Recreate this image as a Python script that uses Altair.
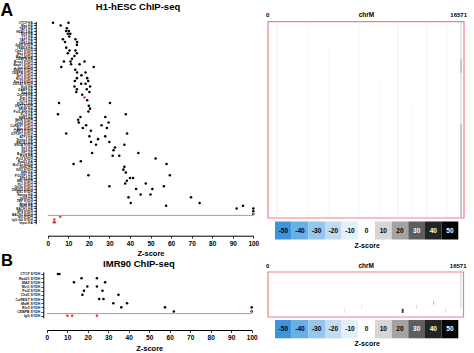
import json
import altair as alt
import pandas as pd

FONT = "Liberation Sans"
W, H = 474, 353

# ---------------- data ----------------
labels_A = [
    "CTCF HA", "Max HA", "TAF1 HA", "HDAC2 HA", "Sin3 HA", "YY1 HA", "TAF7 HA", "USF1 HA",
    "JunD SYDH", "TEAD4 HA", "Chd1 SYDH", "Max SYDH", "Mxi1 SYDH", "CEBPB HA", "Brca1 SYDH",
    "Bach1 SYDH", "c-Jun SYDH", "Rad21 SYDH", "CEBPB SYDH", "Nrf1 SYDH", "Rfx5 SYDH",
    "Suz12 SYDH", "Znf143 SYDH", "Six5 HA", "GABP HA", "Sp4 HA", "Znf274 HA", "Egr1 HA",
    "Tcf12 HA", "FOSL1 HA", "USF2 SYDH", "NRSF HA", "Pol2-4H8 HA", "Pol2 HA", "NRF1 HA",
    "MafK SYDH", "Chd2 SYDH", "CoREST SYDH", "c-Myc SYDH", "CtBP2 SYDH", "GTF2F1 SYDH",
    "ATF3 HA", "Srebp1 HA", "BRCA1 HA", "Sin3A SYDH", "Sp1 HA", "Sp2 HA", "Bcl11a HA",
    "Rxra HA", "Pol2 SYDH", "Rad21 HA", "Bcl11a SYDH", "JunD HA", "SIX5 SYDH", "SRF HA",
    "POU5F1 HA", "ATF2 HA", "Maz SYDH", "Ini1 SYDH", "Gtf2b SYDH", "ZNF263 SYDH",
    "Elk1 SYDH", "Nanog HA", "p300 HA", "TBP SYDH", "Hey1 HA", "MafK HA", "BACH1 HA",
    "SP4 SYDH", "BACH1 SYDH", "IgG SYDH", "IgG rab SYDH", "Input HA",
]
z_A = [
    [2.6, 10.1], [6.3], [9.3], [9.0, 10.3], [9.8, 11.0], [10.5], [7.4, 13.5], [8.4, 14.3],
    [14.2], [9.0], [10.6, 13.5], [9.8, 14.2], [13.0], [11.8], [7.9, 11.1, 17.9],
    [11.4, 15.5], [6.6, 22.4], [13.4], [14.3, 18.4], [16.4], [14.2, 19.2], [13.2, 19.7],
    [16.3, 18.4], [13.0, 20.6], [14.2, 19.0], [13.9, 20.3], [16.8], [17.9], [19.2],
    [5.5, 30.3], [20.0], [20.6], [19.8], [5.0, 38.0], [15.9, 28.0], [14.8], [15.1, 29.6],
    [18.7, 26.2], [17.1, 28.8], [21.0], [9.0, 38.6], [20.3, 28.0], [24.5], [21.1, 30.0],
    [23.5, 37.3], [32.7], [32.0], [21.6, 44.1], [31.6, 34.8], [52.5], [16.1], [12.6, 57.8],
    [37.3], [36.8], [38.0], [19.8, 59.4], [40.0, 41.5], [38.5], [37.7, 47.7], [30.0, 56.5],
    [43.0, 50.9], [], [45.2, 50.0], [39.3, 69.7], [], [40.4, 73.9], [57.6, 95.0],
    [91.9, 100.0], [100.0], [100.0], [6.1], [3.2], [3.0, 3.4],
]
red_rows_A = [27, 70, 71, 72]
ctrl_boundary_A = 69.5

labels_B = [
    "CTCF SYDH", "Rad21 SYDH", "MAZ SYDH", "Mxi1 SYDH", "Pol2 SYDH", "Chd1 SYDH",
    "CoREST SYDH", "MafK SYDH", "Rfx5 SYDH", "CEBPB SYDH", "IgG SYDH",
]
z_B = [
    [5.5, 6.2], [17.0, 24.5], [13.3, 28.5], [19.8, 24.5], [18.2, 27.2], [17.4, 35.0],
    [25.6, 27.7], [32.5, 39.2], [36.4, 57.7, 100.0], [62.0, 100.0], [10.1, 12.4, 24.5],
]
red_rows_B = [10]
ctrl_boundary_B = 9.5

x_ticks = [0, 10, 20, 30, 40, 50, 60, 70, 80, 90, 100]
chrM_len = 16571

cbar_values = [-50, -40, -30, -20, -10, 0, 10, 20, 30, 40, 50]
cbar_colors = ["#3f93db", "#6aaee6", "#95c6ee", "#bfdcf3", "#e3f0f9", "#ffffff",
               "#d6d6d6", "#a3a3a3", "#5e5e5e", "#242424", "#050505"]

# heatmap streaks along chrM (start bp, end bp, first row, last row, z-score)
streak_A_start = [700, 3330, 5100, 7720, 9500, 10950, 12200, 13400, 15100, 16250, 16250, 16250]
streak_A_end = [800, 3420, 5180, 7800, 9570, 11050, 12280, 13480, 15180, 16400, 16400, 16400]
streak_A_row0 = [0, 0, 10, 0, 20, 0, 30, 0, 0, 0, 14, 38]
streak_A_row1 = [72, 72, 72, 72, 72, 72, 72, 72, 72, 72, 18, 72]
streak_A_z = [3, 2, 2, 2, 2, 3, 2, 3, 3, 6, 14, 14]

streak_B_start = [6470, 7900, 11330, 12550, 13990, 15000, 16280]
streak_B_end = [6550, 7990, 11500, 12640, 14080, 15090, 16400]
streak_B_row0 = [9, 8, 9, 8, 7, 9, 0]
streak_B_row1 = [9, 8, 9, 8, 7, 9, 8]
streak_B_z = [8, 6, 35, 8, 14, 8, 8]

RED_LINE = "#f07c82"
RED_DOT = "#e8303a"
BOX = "#ef8088"

heat_scale = alt.Scale(domain=cbar_values, range=cbar_colors, interpolate="rgb")


def scatter(labels, z_rows, red_rows, boundary, x_range, y_range, yaxis_x, xaxis_y, lab_size):
    n = len(labels)
    recs = []
    for i, zs in enumerate(z_rows):
        for z in zs:
            recs.append({"row": i, "z": z, "kind": "ctrl" if i in red_rows else "data"})
    df = pd.DataFrame(recs)
    rule_df = pd.DataFrame({"x0": [0, 100], "x1": [100, 100],
                            "y0": [boundary, boundary - 1.3], "y1": [boundary, boundary]})
    xs = alt.Scale(domain=[0, 100], range=x_range, nice=False, zero=False)
    ys = alt.Scale(domain=[-0.5, n - 0.5], range=y_range, nice=False, zero=False)
    yaxis = alt.Axis(orient="left", offset=-yaxis_x, values=list(range(n)), tickCount=500,
                     labelExpr=json.dumps(labels) + "[datum.value]",
                     labelFont=FONT, labelFontSize=lab_size, labelFontWeight="bold",
                     labelColor="black", labelOpacity=0.99, labelPadding=1,
                     labelOverlap=False,
                     tickSize=2.5, tickWidth=0.7, tickColor="black",
                     domainColor="black", domainWidth=1, title=None, grid=False)
    xaxis = alt.Axis(orient="bottom", offset=xaxis_y - H, values=x_ticks, tickCount=500,
                     format="d", labelFlush=False,
                     labelFont=FONT, labelFontSize=6.5, labelFontWeight="bold",
                     labelColor="black", labelPadding=2, labelOverlap=False,
                     tickSize=2.5, tickWidth=0.8, tickColor="black",
                     domainColor="black", domainWidth=1,
                     title="Z-score", titleFont=FONT, titleFontSize=7.5,
                     titleFontWeight="bold", titleColor="black", titlePadding=3, grid=False)
    rule = alt.Chart(rule_df).mark_rule(color=RED_LINE, strokeWidth=1).encode(
        x=alt.X("x0:Q"), x2="x1:Q", y=alt.Y("y0:Q"), y2="y1:Q")
    pts = alt.Chart(df).mark_circle(size=6.5, opacity=1).encode(
        x=alt.X("z:Q", scale=xs, axis=xaxis),
        y=alt.Y("row:Q", scale=ys, axis=yaxis),
        color=alt.Color("kind:N", scale=alt.Scale(domain=["data", "ctrl"],
                                                  range=["#000000", RED_DOT]), legend=None),
    )
    return alt.layer(pts, rule)


def heat(n, starts, ends, r0, r1, zs, x_range, y_range):
    sdf = pd.DataFrame({"p0": starts, "p1": ends,
                        "r0": [r - 0.5 for r in r0], "r1": [r + 0.5 for r in r1], "z": zs})
    bdf = pd.DataFrame({"b0": [0], "b1": [chrM_len], "c0": [-0.5], "c1": [n - 0.5]})
    hx = alt.Scale(domain=[0, chrM_len], range=x_range, nice=False, zero=False)
    hy = alt.Scale(domain=[-0.5, n - 0.5], range=y_range, nice=False, zero=False)
    top = alt.Axis(orient="top", offset=-y_range[0], values=[0, chrM_len], format="d",
                   tickCount=10,
                   labelFlush=True, labelFlushOffset=2.5, ticks=False, domain=False,
                   labelFont=FONT, labelFontSize=6, labelFontWeight="bold", labelColor="black",
                   labelPadding=4, title="chrM", titleFont=FONT, titleFontSize=6.5,
                   titleFontWeight="bold", titleColor="black", titleY=-4,
                   titleBaseline="bottom", grid=False)
    cells = alt.Chart(sdf).mark_rect().encode(
        x=alt.X("p0:Q", scale=hx, axis=top), x2="p1:Q",
        y=alt.Y("r0:Q", scale=hy, axis=None), y2="r1:Q",
        color=alt.Color("z:Q", scale=heat_scale, legend=None),
    )
    box = alt.Chart(bdf).mark_rect(fillOpacity=0, stroke=BOX, strokeWidth=1.2).encode(
        x="b0:Q", x2="b1:Q", y="c0:Q", y2="c1:Q")
    return alt.layer(cells, box)


def colorbar(x_range, y_range, title_pad):
    df = pd.DataFrame({"v": cbar_values})
    df["lab"] = [str(v) for v in cbar_values]
    df["c0"] = df["v"] - 5
    df["c1"] = df["v"] + 5
    df["b0"] = 0.0
    df["b1"] = 1.0
    df["bm"] = 0.5
    cx = alt.Scale(domain=[-55, 55], range=x_range, nice=False, zero=False)
    cy = alt.Scale(domain=[0, 1], range=y_range, nice=False, zero=False)
    zaxis = alt.Axis(orient="bottom", offset=y_range[1] - H, labels=False, ticks=False,
                     domain=False, title="Z-score", titleFont=FONT, titleFontSize=7,
                     titleFontWeight="bold", titleColor="black", titlePadding=title_pad,
                     grid=False)
    rects = alt.Chart(df).mark_rect().encode(
        x=alt.X("c0:Q", scale=cx, axis=zaxis), x2="c1:Q",
        y=alt.Y("b0:Q", scale=cy, axis=None), y2="b1:Q",
        color=alt.Color("v:Q", scale=heat_scale, legend=None),
    )
    txt = alt.Chart(df).mark_text(font=FONT, fontSize=6.5, fontWeight="bold",
                                  baseline="middle").encode(
        x="v:Q", y="bm:Q", text="lab:N",
        color=alt.condition("datum.v >= 30", alt.value("white"), alt.value("black")),
    )
    return alt.layer(rects, txt)


def label(t, x, y, size, align="left"):
    return alt.Chart(pd.DataFrame({"t": [t]})).mark_text(
        font=FONT, fontSize=size, fontWeight="bold", align=align,
        baseline="alphabetic", color="black").encode(
        x=alt.value(x), y=alt.value(y), text="t:N")


scA = scatter(labels_A, z_A, red_rows_A, ctrl_boundary_A, [47.7, 253.3], [21.3, 223.7],
              35.7, 235.7, 3.2)
heatA = heat(len(labels_A), streak_A_start, streak_A_end, streak_A_row0, streak_A_row1,
             streak_A_z, [268, 464], [21.7, 218])
cbA = colorbar([275, 458.3], [221.5, 239.5], 2)

scB = scatter(labels_B, z_B, red_rows_B, ctrl_boundary_B, [46.7, 251.7], [271.9, 317.8],
              43.3, 330, 3.5)
heatB = heat(len(labels_B), streak_B_start, streak_B_end, streak_B_row0, streak_B_row1,
             streak_B_z, [268, 463.5], [272, 317])
cbB = colorbar([275, 458.3], [320, 338.3], 1)

texts = [
    label("A", 0.5, 16, 17.5),
    label("H1-hESC ChIP-seq", 138, 10, 9.5, "center"),
    label("B", 1, 266, 16.5),
    label("IMR90 ChIP-seq", 139, 267, 9.5, "center"),
]

chart = alt.layer(scA, heatA, cbA, scB, heatB, cbB, *texts).resolve_scale(
    x="independent", y="independent", color="independent"
).resolve_axis(
    x="independent", y="independent"
).properties(
    width=W, height=H, autosize=alt.AutoSizeParams(type="none"), padding=0,
    background="white",
).configure_view(stroke=None).configure_axis(grid=False)

chart.save("out.html", embed_options={"renderer": "svg", "actions": False})
